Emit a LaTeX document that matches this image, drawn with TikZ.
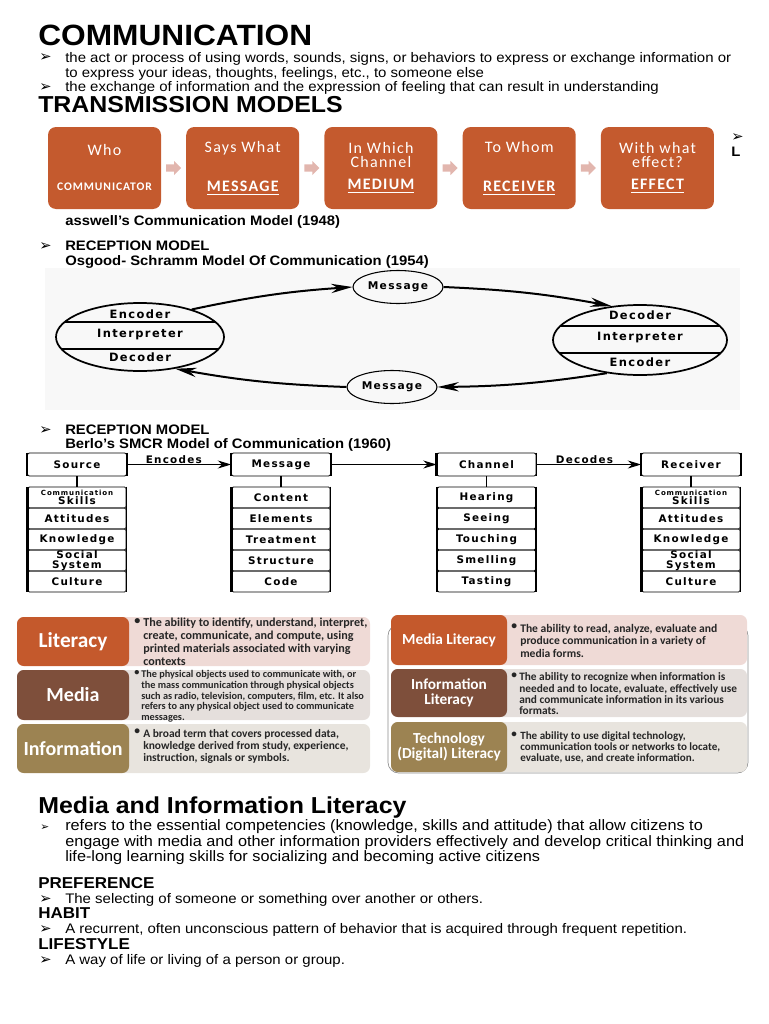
\documentclass[tikz,border=0pt]{standalone}
\usepackage{fontspec}
\setmainfont[FakeStretch=1.08]{Liberation Sans}
\newfontfamily\boxfont{Carlito}
\newfontfamily\tboxfont[LetterSpace=8]{Carlito}
\newfontfamily\modelfont[LetterSpace=12]{DejaVu Sans}
\newfontfamily\symfont{DejaVu Sans}
\usetikzlibrary{arrows.meta,shapes.geometric,shapes.arrows,positioning}

\definecolor{lassorange}{HTML}{C45A2E}
\definecolor{chevpink}{HTML}{E2B6AE}
\definecolor{litorange}{HTML}{C4592C}
\definecolor{medbrown}{HTML}{7E4F3B}
\definecolor{infoolive}{HTML}{9C8352}
\definecolor{descpink}{HTML}{EFDAD6}
\definecolor{descgray}{HTML}{E5DFDC}
\definecolor{descbeige}{HTML}{E8E4DE}
\definecolor{bgshade}{HTML}{F8F8F8}

\newcommand{\pxu}{0.75pt}
\newcommand{\fs}[2]{\fontsize{#1}{#2}\selectfont}
\newcommand{\cskill}{\fs{5.3}{6.5}Communication\\Skills}

\tikzset{
  bigtitle/.style={anchor=base west, inner sep=0pt, font=\bfseries\fs{22}{24}},
  sechead/.style={anchor=base west, inner sep=0pt, font=\bfseries\fs{17.3}{20}},
  bodypara/.style={anchor=north west, inner sep=0pt, align=left, font=\fs{10.4}{11.25}},
  bulletsign/.style={anchor=base west, inner sep=0pt, font=\symfont\fs{11}{12}},
  subhead/.style={anchor=base west, inner sep=0pt, font=\bfseries\fs{10.3}{11}},
  termhead/.style={anchor=base west, inner sep=0pt, font=\bfseries\fs{11.8}{12}},
  termline/.style={anchor=base west, inner sep=0pt, font=\fs{10.4}{12}},
  % Lasswell boxes
  tbox/.style={fill=lassorange, rounded corners=6pt, minimum width=113*\pxu,
    minimum height=82*\pxu, inner sep=0pt},
  tupper/.style={text=white, font=\tboxfont\fs{12}{10.5}, align=center, inner sep=0pt},
  tlower/.style={text=white, font=\tboxfont\bfseries\fs{12}{12}, inner sep=0pt},
  tarrow/.style={single arrow, fill=chevpink, minimum height=15*\pxu,
    single arrow head extend=2.5pt, inner sep=2.6pt},
  % Osgood-Schramm
  oval/.style={draw, ellipse, line width=1.3pt, inner sep=0pt},
  ovaltext/.style={font=\modelfont\bfseries\fs{8.6}{9}, inner sep=0pt},
  flowarrow/.style={line width=1.5pt, -{Stealth[length=16pt,width=7pt]}},
  % Berlo SMCR
  sidebars/.style={append after command={
    (\tikzlastnode.north west) edge[line width=1.8pt] (\tikzlastnode.south west)
    (\tikzlastnode.north east) edge[line width=1.1pt] (\tikzlastnode.south east)}},
  smcrhead/.style={draw, rounded corners=1.5pt, line width=0.6pt, minimum width=99*\pxu,
    minimum height=23*\pxu, inner sep=0pt, font=\modelfont\bfseries\fs{7.8}{7.2}, sidebars},
  smcrcell/.style={draw, rounded corners=1pt, line width=0.6pt, minimum width=98*\pxu,
    minimum height=21*\pxu, inner sep=0pt, align=center,
    font=\modelfont\bfseries\fs{7.8}{7.2}, sidebars},
  smcrlink/.style={line width=0.7pt, -{Stealth[length=10pt,width=6pt]}},
  stem/.style={line width=1.3pt},
  linklabel/.style={above=0.5pt, inner sep=0pt, font=\modelfont\bfseries\fs{7.8}{8}},
  % literacy tables
  litlabel/.style={rounded corners=5pt, inner sep=0pt, text=white, align=center},
  litdesc/.style={rounded corners=5pt, inner sep=0pt},
  litdot/.style={anchor=north west, inner sep=0pt, text=black!85},
  littext/.style={anchor=north west, inner sep=0pt, align=left, text=black!85},
}

\begin{document}
\begin{tikzpicture}[x=0.75pt, y=-0.75pt]
\useasboundingbox (0,0) rectangle (768,1024);

% Communication
\node[bigtitle] (comm) at (38,46) {COMMUNICATION};
\node[bulletsign] (b1) at (39,62) {➢};
\node[bodypara] (def1) at (65,52) {the act or process of using words, sounds, signs, or behaviors to express or exchange information or\\to express your ideas, thoughts, feelings, etc., to someone else};
\node[bulletsign] (b2) at (39,91) {➢};
\node[bodypara] (def2) at (65,81) {the exchange of information and the expression of feeling that can result in understanding};

% Transmission models (Lasswell)
\node[sechead] (trans) at (38,113) {TRANSMISSION MODELS};
\node[tbox] (who) at (104.5,168) {};
\node[tarrow, right=3.4pt of who] (ch1) {};
\node[tbox, right=3.4pt of ch1] (says) {};
\node[tarrow, right=3.4pt of says] (ch2) {};
\node[tbox, right=3.4pt of ch2] (chan) {};
\node[tarrow, right=3.4pt of chan] (ch3) {};
\node[tbox, right=3.4pt of ch3] (whom) {};
\node[tarrow, right=3.4pt of whom] (ch4) {};
\node[tbox, right=3.4pt of ch4] (eff) {};

\node[tupper] (who-a) at ([yshift=13.5pt]who.center) {Who};
\node[tlower, font=\tboxfont\bfseries\fs{8.7}{9}] (who-b) at ([yshift=-14.25pt]who.center) {COMMUNICATOR};
\node[tupper] (says-a) at ([yshift=15pt]says.center) {Says What};
\node[tlower] (says-b) at ([yshift=-15pt]says.center) {\underline{MESSAGE}};
\node[tupper] (chan-a) at ([yshift=9.75pt]chan.center) {In Which\\Channel};
\node[tlower] (chan-b) at ([yshift=-13.5pt]chan.center) {\underline{MEDIUM}};
\node[tupper] (whom-a) at ([yshift=15.75pt]whom.center) {To Whom};
\node[tlower] (whom-b) at ([yshift=-15pt]whom.center) {\underline{RECEIVER}};
\node[tupper] (eff-a) at ([yshift=9.75pt]eff.center) {With what\\effect?};
\node[tlower] (eff-b) at ([yshift=-13.5pt]eff.center) {\underline{EFFECT}};

\node[bulletsign] (cutb) at (731,141) {➢};
\node[subhead] (cutl) at (731,156) {L};
\node[subhead] (lass) at (65,225) {asswell's Communication Model (1948)};

% Osgood-Schramm
\node[bulletsign] (b3) at (39,250) {➢};
\node[subhead] (rec1) at (65,250) {RECEPTION MODEL};
\node[subhead] (osg) at (65,265) {Osgood- Schramm Model Of Communication (1954)};
\fill[bgshade] (45,268) rectangle (740,410);

\begin{scope}
  \clip (140,337) ellipse (84 and 34);
  \draw[line width=0.8pt] (50,322) -- (230,322) (50,349) -- (230,349);
\end{scope}
\begin{scope}
  \clip (640,340) ellipse (87 and 35);
  \draw[line width=0.8pt] (550,326) -- (730,326) (550,353) -- (730,353);
\end{scope}
\node[oval, minimum width=168*\pxu, minimum height=68*\pxu] (encL) at (140,337) {};
\node[oval, minimum width=174*\pxu, minimum height=70*\pxu] (decR) at (640,340) {};
\node[ovaltext] (encL-1) at (140,314) {Encoder};
\node[ovaltext] (encL-2) at (140,335) {Interpreter};
\node[ovaltext] (encL-3) at (140,357) {Decoder};
\node[ovaltext] (decR-1) at (640,315) {Decoder};
\node[ovaltext] (decR-2) at (640,338) {Interpreter};
\node[ovaltext] (decR-3) at (640,362) {Encoder};

\node[oval, line width=0.8pt, minimum width=90*\pxu, minimum height=33*\pxu, font=\modelfont\bfseries\fs{8}{8}] (msgT) at (398,287) {Message};
\node[oval, line width=0.8pt, minimum width=90*\pxu, minimum height=33*\pxu, font=\modelfont\bfseries\fs{8}{8}] (msgB) at (392,387) {Message};

\draw[flowarrow] (encL.28) to[bend left=4] (msgT.west);
\draw[flowarrow] (msgT.east) to[bend left=4] (decR.130);
\draw[flowarrow] (decR.225) to[bend left=4] (msgB.east);
\draw[flowarrow] (msgB.west) to[bend left=4] (encL.318);

% Berlo SMCR
\node[bulletsign] (b4) at (39,434) {➢};
\node[subhead] (rec2) at (65,434) {RECEPTION MODEL};
\node[subhead] (berlo) at (65,448) {Berlo's SMCR Model of Communication (1960)};

\node[smcrhead] (src) at (77,464.5) {Source};
\node[smcrhead] (msg) at (281,464.5) {Message};
\node[smcrhead] (chn) at (486.5,464.5) {Channel};
\node[smcrhead] (rcv) at (691,464.5) {Receiver};

\foreach \txt [count=\i] in {{\cskill}, Attitudes, Knowledge, {Social\\System}, Culture}
  \node[smcrcell] (src\i) at (77,476.5+21*\i) {\txt};
\foreach \txt [count=\i] in {Content, Elements, Treatment, Structure, Code}
  \node[smcrcell] (msg\i) at (281,476.5+21*\i) {\txt};
\foreach \txt [count=\i] in {Hearing, Seeing, Touching, Smelling, Tasting}
  \node[smcrcell] (chn\i) at (486.5,476.5+21*\i) {\txt};
\foreach \txt [count=\i] in {{\cskill}, Attitudes, Knowledge, {Social\\System}, Culture}
  \node[smcrcell] (rcv\i) at (691,476.5+21*\i) {\txt};

\draw[stem] (src) -- (src1);
\draw[stem] (msg) -- (msg1);
\draw[stem] (chn) -- (chn1);
\draw[stem] (rcv) -- (rcv1);

\draw[smcrlink] (src) -- node[linklabel, pos=0.45] (encodes) {Encodes} (msg);
\draw[smcrlink] (msg) -- (chn);
\draw[smcrlink] (chn) -- node[linklabel, pos=0.46] (decodes) {Decodes} (rcv);

% Literacy, media, information
\node[litdesc, fill=descpink, minimum width=255*\pxu, minimum height=49*\pxu] (ld1) at (242.5,641.5) {};
\node[litdesc, fill=descgray, minimum width=255*\pxu, minimum height=50*\pxu] (ld2) at (242.5,695) {};
\node[litdesc, fill=descbeige, minimum width=255*\pxu, minimum height=49*\pxu] (ld3) at (242.5,748.5) {};
\node[litlabel, fill=litorange, minimum width=112*\pxu, minimum height=49*\pxu, font=\boxfont\bfseries\fs{16}{16}] (lit) at (73,641.5) {Literacy};
\node[litlabel, fill=medbrown, minimum width=112*\pxu, minimum height=50*\pxu, font=\boxfont\bfseries\fs{15}{16}] (med) at (73,695) {Media};
\node[litlabel, fill=infoolive, minimum width=112*\pxu, minimum height=49*\pxu, font=\boxfont\bfseries\fs{15}{16}] (inf) at (73,748.5) {Information};

\node[litdot, font=\boxfont\bfseries\fs{9.1}{9.6}] (ld1-d) at (134,618) {•};
\node[littext, font=\boxfont\bfseries\fs{9.1}{9.6}] (ld1-t) at (143,618) {The ability to identify, understand, interpret,\\create, communicate, and compute, using\\printed materials associated with varying\\contexts};
\node[litdot, font=\boxfont\bfseries\fs{7.7}{8.1}] (ld2-d) at (134,670) {•};
\node[littext, font=\boxfont\bfseries\fs{7.7}{8.1}] (ld2-t) at (141,670) {The physical objects used to communicate with, or\\the mass communication through physical objects\\such as radio, television, computers, film, etc. It also\\refers to any physical object used to communicate\\messages.};
\node[litdot, font=\boxfont\bfseries\fs{8.6}{9}] (ld3-d) at (134,729) {•};
\node[littext, font=\boxfont\bfseries\fs{8.6}{9}] (ld3-t) at (143,729) {A broad term that covers processed data,\\knowledge derived from study, experience,\\instruction, signals or symbols.};

% Media, information, technology literacy
\draw[black!45, line width=0.5pt, rounded corners=8pt] (388,625) rectangle (748,773);
\node[litdesc, fill=descpink, minimum width=252*\pxu, minimum height=50*\pxu] (rd1) at (621,640) {};
\node[litdesc, fill=descgray, minimum width=252*\pxu, minimum height=48*\pxu] (rd2) at (621,693) {};
\node[litdesc, fill=descbeige, minimum width=252*\pxu, minimum height=50*\pxu] (rd3) at (621,747) {};
\node[litlabel, fill=litorange, minimum width=116*\pxu, minimum height=50*\pxu, font=\boxfont\bfseries\fs{11.5}{11.25}] (mlit) at (449,640) {Media Literacy};
\node[litlabel, fill=medbrown, minimum width=116*\pxu, minimum height=48*\pxu, font=\boxfont\bfseries\fs{11.5}{11.25}] (ilit) at (449,693) {Information\\Literacy};
\node[litlabel, fill=infoolive, minimum width=116*\pxu, minimum height=50*\pxu, font=\boxfont\bfseries\fs{11.5}{11.25}] (tlit) at (449,747) {Technology\\(Digital) Literacy};

\node[litdot, font=\boxfont\bfseries\fs{8.7}{9.4}] (rd1-d) at (511,624) {•};
\node[littext, font=\boxfont\bfseries\fs{8.7}{9.4}] (rd1-t) at (520,624) {The ability to read, analyze, evaluate and\\produce communication in a variety of\\media forms.};
\node[litdot, font=\boxfont\bfseries\fs{8.5}{8.5}] (rd2-d) at (511,672.5) {•};
\node[littext, font=\boxfont\bfseries\fs{8.5}{8.5}] (rd2-t) at (519,672.5) {The ability to recognize when information is\\needed and to locate, evaluate, effectively use\\and communicate information in its various\\formats.};
\node[litdot, font=\boxfont\bfseries\fs{8.3}{8.3}] (rd3-d) at (511,731.5) {•};
\node[littext, font=\boxfont\bfseries\fs{8.3}{8.3}] (rd3-t) at (520,731.5) {The ability to use digital technology,\\communication tools or networks to locate,\\evaluate, use, and create information.};

% Media and information literacy, terms
\node[sechead] (mil) at (38,813) {Media and Information Literacy};
\node[bulletsign, font=\symfont\fs{8}{8}] (b5) at (40,830) {➢};
\node[bodypara, font=\fs{11.3}{11.6}] (mildef) at (65,819.5) {refers to the essential competencies (knowledge, skills and attitude) that allow citizens to\\engage with media and other information providers effectively and develop critical thinking and\\life-long learning skills for socializing and becoming active citizens};

\node[termhead] (pref) at (38,888) {PREFERENCE};
\node[bulletsign] (b6) at (39,903) {➢};
\node[termline] (prefdef) at (65,903) {The selecting of someone or something over another or others.};
\node[termhead] (habit) at (38,918) {HABIT};
\node[bulletsign] (b7) at (39,933) {➢};
\node[termline] (habitdef) at (65,933) {A recurrent, often unconscious pattern of behavior that is acquired through frequent repetition.};
\node[termhead] (life) at (38,949) {LIFESTYLE};
\node[bulletsign] (b8) at (39,964) {➢};
\node[termline] (lifedef) at (65,964) {A way of life or living of a person or group.};

\end{tikzpicture}
\end{document}
